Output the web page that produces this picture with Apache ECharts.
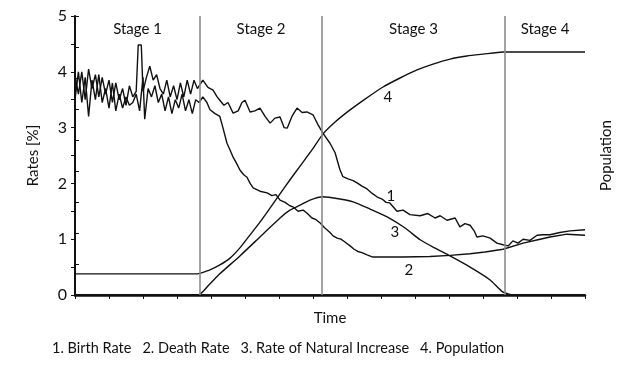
<!DOCTYPE html>
<html>
<head>
<meta charset="utf-8">
<script src="https://cdn.jsdelivr.net/npm/echarts@6/dist/echarts.min.js"></script>
<style>
  html, body { margin: 0; padding: 0; background: #fff; }
  #chart { width: 640px; height: 376px; }
</style>
</head>
<body>
<div id="chart"></div>
<script>
// time runs 0..150 (one tick every 10), rates in %, population on a 0..9 scale
const stageNames = ['Stage 1', 'Stage 2', 'Stage 3', 'Stage 4'];
const stageBounds = [0, 36.8, 72.6, 126.5, 150];

const seriesNames = ['1. Birth Rate', '2. Death Rate', '3. Rate of Natural Increase', '4. Population'];

const birthRate = [
  [0, 3.95], [1, 3.6], [2, 4.0], [3, 3.5], [4, 4.05], [5, 3.7], [6, 3.95], [7, 3.55], [8, 3.9],
  [9, 3.6], [10, 3.85], [11, 3.45], [12, 3.8], [13, 3.5], [14, 3.7], [15, 3.4], [16, 3.75],
  [17, 3.55], [18, 3.65], [18.6, 4.48], [19.5, 4.48], [20, 3.65], [21, 3.9], [22, 4.1], [23, 3.85],
  [24, 3.95], [25, 3.7], [26, 3.6], [27, 3.85], [28, 3.55], [29, 3.75], [30, 3.5], [31, 3.8],
  [32, 3.55], [33, 3.85], [34, 3.6], [35, 3.85], [36, 3.7], [37.6, 3.85],
  [39.1, 3.72], [40.6, 3.67], [41.8, 3.55], [42.6, 3.49], [43.8, 3.4], [45, 3.45], [46.5, 3.26],
  [48, 3.3], [49.1, 3.45], [50, 3.49], [51.5, 3.28], [52.9, 3.3], [54.4, 3.35], [55.9, 3.2],
  [57.4, 3.08], [58.8, 3.17], [60.3, 3.19], [61.5, 3.0], [62.4, 2.99], [63.8, 3.2], [65.3, 3.35],
  [66.8, 3.27], [68.2, 3.28], [70, 3.23], [71.5, 3.05], [72.9, 2.9], [75, 2.72], [76.5, 2.55],
  [77.9, 2.25], [78.8, 2.12], [80.3, 2.08], [81.8, 2.05], [83.2, 2.0], [84.4, 1.95], [85.9, 1.9],
  [87.4, 1.82], [88.8, 1.76], [90.3, 1.72], [91.5, 1.66], [92.6, 1.65], [94.7, 1.5], [96.5, 1.52],
  [98.5, 1.44], [101.5, 1.42], [103.8, 1.46], [105.9, 1.38], [107.4, 1.42], [109.4, 1.34],
  [111.8, 1.38], [113.2, 1.22], [114.7, 1.28], [116.2, 1.25], [117.4, 1.15], [118.2, 1.04],
  [120, 1.06], [122.1, 1.02], [124.1, 0.93], [125.9, 0.9], [127.4, 0.88], [128.8, 0.97],
  [130.3, 0.93], [131.8, 1.0], [133.8, 0.98], [135.9, 1.07], [137.6, 1.08], [139.7, 1.08],
  [142.6, 1.12], [145.6, 1.15], [150, 1.17]
];

const deathRate = [
  [0, 3.5], [1, 4.0], [2, 3.45], [3, 3.9], [4, 3.2], [5, 3.85], [6, 3.5], [7, 3.95], [8, 3.45],
  [9, 3.7], [10, 3.35], [11, 3.8], [12, 3.3], [13, 3.6], [14, 3.35], [15, 3.55], [16, 3.4],
  [17, 3.45], [18, 3.6], [19, 3.3], [20, 3.9], [20.5, 3.15], [21.5, 3.7], [22.5, 3.55], [23.5, 3.75],
  [24.5, 3.45], [25.5, 3.6], [26.5, 3.3], [27.5, 3.55], [28.5, 3.25], [29.5, 3.5], [30.5, 3.35],
  [31.5, 3.6], [32.5, 3.3], [33.5, 3.5], [34.5, 3.25], [35.5, 3.5], [36.5, 3.45], [37.6, 3.55],
  [38.8, 3.45], [39.7, 3.32], [41.2, 3.25], [42.6, 3.2], [43.5, 3.0], [44.7, 2.72], [45.6, 2.6],
  [46.5, 2.47], [47.6, 2.35], [48.5, 2.24], [49.7, 2.15], [50.6, 2.11], [51.5, 2.0], [52.4, 1.92],
  [54.4, 1.86], [56.5, 1.83], [57.9, 1.78], [59.1, 1.8], [60.3, 1.7], [61.8, 1.66], [63.2, 1.6],
  [64.1, 1.58], [65.6, 1.5], [67.1, 1.52], [68.2, 1.47], [69.7, 1.38], [70.9, 1.35], [72.1, 1.29],
  [73.5, 1.2], [75, 1.12], [75.9, 1.06], [77.1, 1.02], [78.2, 1.0], [79.4, 0.95], [80.9, 0.88],
  [82.1, 0.82], [83.2, 0.78], [84.4, 0.76], [85.9, 0.72], [87.6, 0.68], [91.2, 0.68], [96.5, 0.68],
  [104.4, 0.69], [110.3, 0.71], [116.2, 0.74], [120.6, 0.77], [125.9, 0.82], [131.8, 0.93],
  [136.8, 1.0], [139.7, 1.04], [144.7, 1.09], [150, 1.07]
];

const naturalIncrease = [
  [0, 0], [36.2, 0], [39.5, 0.19], [42.6, 0.38], [48.5, 0.7], [54.4, 1.04], [60.3, 1.38], [63.2, 1.52],
  [66.2, 1.61], [69.1, 1.7], [72.9, 1.76], [77.9, 1.72], [81.8, 1.67], [86.8, 1.54], [91.8, 1.4],
  [97.1, 1.2], [101.5, 0.99], [105.9, 0.84], [110.3, 0.7], [116.2, 0.5], [122.1, 0.27],
  [125.9, 0.05], [129.4, 0], [150, 0]
];

const population = [
  [0, 0.68], [36, 0.68], [37, 0.71], [39.7, 0.81], [42.6, 0.97], [45.6, 1.19], [48.5, 1.52],
  [51.5, 1.94], [54.4, 2.35], [57.4, 2.81], [60.3, 3.26], [63.2, 3.71], [66.2, 4.16], [69.7, 4.68],
  [72.9, 5.19], [76.5, 5.58], [80.9, 5.97], [85.3, 6.32], [90.6, 6.71], [95.6, 7.0], [100.6, 7.26],
  [105.3, 7.45], [110.3, 7.61], [115.3, 7.71], [120, 7.77], [125.9, 7.84], [150, 7.84]
];

// curve numbers written next to the lines: [time, value]
const curveLabels = [
  { text: '1', at: [92.9, 1.77] },
  { text: '2', at: [98.2, 0.45] },
  { text: '3', at: [94.1, 1.13] },
  { text: '4', at: [92.0, 6.39] }
];

const FONT = 'Lato';
const chart = echarts.init(document.getElementById('chart'));

const lineStyle = { color: '#111', width: 1.4 };

function numberMark(i) {
  const l = curveLabels[i];
  return {
    symbol: 'circle',
    symbolSize: 0,
    silent: true,
    label: {
      show: true, position: 'inside', formatter: l.text,
      color: '#111', fontFamily: FONT, fontSize: 15
    },
    data: [{ coord: l.at }]
  };
}

const stageAreas = stageNames.map((name, i) => [
  { xAxis: stageBounds[i], name: name },
  { xAxis: stageBounds[i + 1] }
]);

const dividers = stageBounds.slice(1, -1).map(v => ({ xAxis: v }));

const option = {
  animation: false,
  backgroundColor: '#fff',
  grid: { left: 75, right: 55, top: 16, bottom: 81 },
  legend: {
    left: 42,
    top: 336,
    icon: 'none',
    itemWidth: 0,
    itemGap: 6,
    selectedMode: false,
    textStyle: { color: '#111', fontFamily: FONT, fontSize: 14.5 },
    data: seriesNames
  },
  xAxis: [
    {
      type: 'value', min: 0, max: 150, interval: 10,
      name: 'Time', nameLocation: 'middle', nameGap: 16,
      nameTextStyle: { color: '#111', fontFamily: FONT, fontSize: 15 },
      axisLine: { lineStyle: { color: '#111', width: 1.5 } },
      axisTick: { show: true, length: 4, lineStyle: { color: '#111' } },
      axisLabel: { show: false },
      splitLine: { show: false }
    },
    {
      type: 'value', min: 0, max: 150, position: 'top',
      axisLine: { show: true, lineStyle: { color: '#111', width: 2.5 } },
      axisTick: { show: false }, axisLabel: { show: false }, splitLine: { show: false }
    }
  ],
  yAxis: [
    {
      type: 'value', min: 0, max: 5, interval: 1,
      name: 'Rates [%]', nameLocation: 'middle', nameGap: 34,
      nameTextStyle: { color: '#111', fontFamily: FONT, fontSize: 15 },
      axisLine: { show: true, lineStyle: { color: '#111', width: 1.5 } },
      axisTick: { show: true, length: 4, lineStyle: { color: '#111' } },
      minorTick: { show: true, splitNumber: 2, length: 4, lineStyle: { color: '#111' } },
      axisLabel: { color: '#111', fontFamily: FONT, fontSize: 16, margin: 8 },
      splitLine: { show: false }
    },
    {
      type: 'value', min: 0, max: 9, interval: 1, position: 'right',
      name: 'Population', nameLocation: 'middle', nameGap: 14,
      nameTextStyle: { color: '#111', fontFamily: FONT, fontSize: 15 },
      axisLine: { show: true, lineStyle: { color: '#111', width: 2 } },
      axisTick: { show: true, length: 4, lineStyle: { color: '#111' } },
      axisLabel: { show: false },
      splitLine: { show: false }
    }
  ],
  series: [
    {
      name: seriesNames[0], type: 'line', data: birthRate,
      showSymbol: false, lineStyle: lineStyle, itemStyle: { color: '#111' },
      markLine: {
        silent: true, symbol: 'none', label: { show: false },
        lineStyle: { color: '#8c8c8c', width: 1.6, type: 'solid' },
        data: dividers
      },
      markArea: {
        silent: true,
        itemStyle: { color: 'rgba(0,0,0,0)' },
        label: {
          show: true, position: 'insideTop', distance: 6,
          color: '#111', fontFamily: FONT, fontSize: 15
        },
        data: stageAreas
      },
      markPoint: numberMark(0)
    },
    {
      name: seriesNames[1], type: 'line', data: deathRate,
      showSymbol: false, lineStyle: lineStyle, itemStyle: { color: '#111' },
      markPoint: numberMark(1)
    },
    {
      name: seriesNames[2], type: 'line', data: naturalIncrease, smooth: 0.2,
      showSymbol: false, lineStyle: lineStyle, itemStyle: { color: '#111' },
      markPoint: numberMark(2)
    },
    {
      name: seriesNames[3], type: 'line', yAxisIndex: 1, data: population, smooth: 0.2,
      showSymbol: false, lineStyle: lineStyle, itemStyle: { color: '#111' },
      markPoint: numberMark(3)
    }
  ]
};

chart.setOption(option);
</script>
</body>
</html>
